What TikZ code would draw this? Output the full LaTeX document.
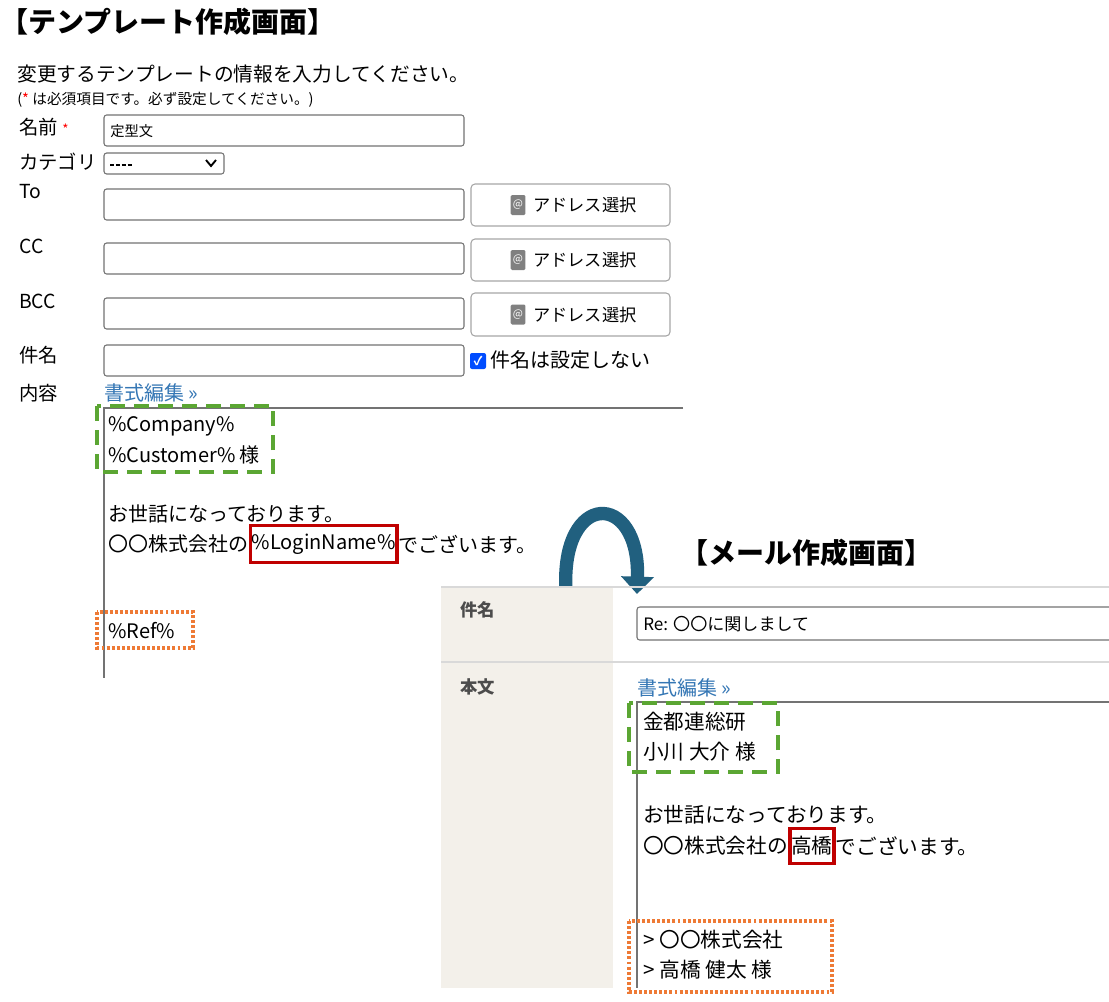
\documentclass[tikz,border=0pt]{standalone}
\usepackage{fontspec}
\setmainfont{Noto Sans CJK JP}
\usetikzlibrary{arrows.meta,positioning}
\definecolor{gbox}{HTML}{5BA633}
\definecolor{obox}{HTML}{EE7A35}
\definecolor{rbox}{HTML}{C00000}
\definecolor{lnk}{HTML}{3577B5}
\definecolor{panel}{HTML}{F3F0EA}
\definecolor{arr}{HTML}{21607F}
\tikzset{x=0.75pt,y=-0.75pt,
 txt/.style={anchor=west,inner sep=0pt,font=\fontsize{15}{17}\selectfont},
 txtb/.style={anchor=west,inner sep=0pt,font=\fontsize{15.5}{17}\selectfont},
 lbl/.style={anchor=west,inner sep=0pt,font=\fontsize{14.5}{16}\selectfont},
 inp/.style={draw=black!55,rounded corners=2pt,line width=0.8pt},
 btn/.style={draw=black!35,rounded corners=3pt,line width=0.8pt},
 gdash/.style={draw=gbox,line width=2.6pt,dash pattern=on 11pt off 7pt},
 odot/.style={draw=obox,line width=2.6pt,dash pattern=on 2.2pt off 1.6pt},
 rsq/.style={draw=rbox,line width=2.6pt,inner ysep=6pt,inner xsep=1pt},
 ttl/.style={anchor=west,inner sep=0pt,font=\bfseries\fontsize{21}{23}\selectfont}}
\newcommand{\addrbtn}[3]{%
 \draw[btn] (471,#1) rectangle (670,#2);
 \node[fill=black!50,rounded corners=1pt,minimum width=11pt,minimum height=15pt,inner sep=0pt,text=white,font=\fontsize{8}{8}\selectfont] (#3i) at (518,{(#1+#2)/2}) {@};
 \node[lbl,font=\fontsize{12.9}{14}\selectfont] (#3t) at (533,{(#1+#2)/2}) {アドレス選択};}
\begin{document}
\begin{tikzpicture}
\useasboundingbox[fill=white] (0,0) rectangle (1109,1002);
\node[ttl] (t1) at (0,22) {【テンプレート作成画面】};
\node[lbl,font=\fontsize{14.8}{16}\selectfont] (intro) at (17,74) {変更するテンプレートの情報を入力してください。};
\node[lbl,font=\fontsize{11}{12}\selectfont] (req) at (17,100) {(\textcolor{red}{*} は必須項目です。必ず設定してください。)};
\node[lbl] (l1) at (19,127) {名前 \textcolor{red}{\fontsize{10}{10}\selectfont *}};
\draw[inp] (104,115) rectangle (464,146);
\node[lbl,font=\fontsize{10.7}{12}\selectfont] (v1) at (110,131) {定型文};
\node[lbl] (l2) at (19,162) {カテゴリ};
\draw[inp] (104,153) rectangle (224,174);
\draw[line width=0.8pt,dash pattern=on 3.2pt off 1.2pt] (110,165) -- (133,165);
\draw[line width=1.4pt] (206,160) -- (211,166) -- (216,160);
\node[lbl] (l3) at (19,192) {To};
\draw[inp] (104,189) rectangle (464,220);
\addrbtn{184}{226}{b1}
\node[lbl] (l4) at (19,246) {CC};
\draw[inp] (104,243) rectangle (464,274);
\addrbtn{239}{281}{b2}
\node[lbl] (l5) at (19,301) {BCC};
\draw[inp] (104,298) rectangle (464,329);
\addrbtn{293}{336}{b3}
\node[lbl] (l6) at (19,355) {件名};
\draw[inp] (104,345) rectangle (464,376);
\node[fill=blue!70!cyan,rounded corners=1.5pt,minimum size=12pt,inner sep=0pt,text=white,font=\bfseries\fontsize{9}{9}\selectfont] (cb) at (478,361) {✓};
\node[lbl,font=\fontsize{15}{16}\selectfont] (cbt) at (490,360) {件名は設定しない};
\node[lbl] (l7) at (19,393) {内容};
\node[lbl,text=lnk,font=\fontsize{15}{16}\selectfont] (ed1) at (104,393) {書式編集 »};
\draw[black!55,line width=0.8pt] (683,408) -- (104,408) -- (104,678);
\draw[gdash] (97,406) rectangle (273,472);
\node[txt] (c1) at (108,426) {\%Company\%};
\node[txt] (c2) at (108,455) {\%Customer\% 様};
\node[txt] (g1) at (108,514) {お世話になっております。};
\node[txt] (g2) at (108,544) {〇〇株式会社の};
\node[txt,rsq,anchor=west] (g3) at (g2.east) {\%LoginName\%};
\node[txt,anchor=west] (g4) at (g3.east) {でございます。};
\draw[odot] (97,612) rectangle (193,648);
\node[txt] (rf) at (108,631) {\%Ref\%};
% arrow
\coordinate (as) at (566,591);
\coordinate (ae) at (637,594);
\draw[arr,line width=10pt,-{Triangle[length=13pt,width=24pt]}] (as) .. controls (560,490) and (640,490) .. (ae);
\node[ttl] (t2) at (680,553) {【メール作成画面】};
% mail panel
\fill[panel] (441,587) rectangle (613,988);
\draw[black!15,line width=1pt] (441,587) -- (1109,587);
\draw[black!15,line width=1pt] (441,662) -- (1109,662);
\node[lbl,font=\bfseries\fontsize{13}{15}\selectfont,text=black!70] (m1) at (460,610) {件名};
\draw[inp] (637,607) rectangle (1115,640);
\node[lbl,font=\fontsize{12.8}{14}\selectfont] (mv) at (643,624) {Re: 〇〇に関しまして};
\node[lbl,font=\bfseries\fontsize{13}{15}\selectfont,text=black!70] (m2) at (460,687) {本文};
\node[lbl,text=lnk,font=\fontsize{15}{16}\selectfont] (ed2) at (637,688) {書式編集 »};
\draw[black!55,line width=0.8pt] (1109,702) -- (637,702) -- (637,988);
\draw[gdash] (629,703) rectangle (778,772);
\node[txtb] (n1) at (643,722) {金都連総研};
\node[txtb] (n2) at (643,752) {小川 大介 様};
\node[txtb] (h1) at (643,815) {お世話になっております。};
\node[txtb] (h2) at (643,846) {〇〇株式会社の};
\node[txtb,rsq,anchor=west] (h3) at (h2.east) {高橋};
\node[txtb,anchor=west] (h4) at (h3.east) {でございます。};
\draw[odot] (629,921) rectangle (832,992);
\node[txtb] (q1) at (643,940) {> 〇〇株式会社};
\node[txtb] (q2) at (643,970) {> 高橋 健太 様};
\end{tikzpicture}
\end{document}
